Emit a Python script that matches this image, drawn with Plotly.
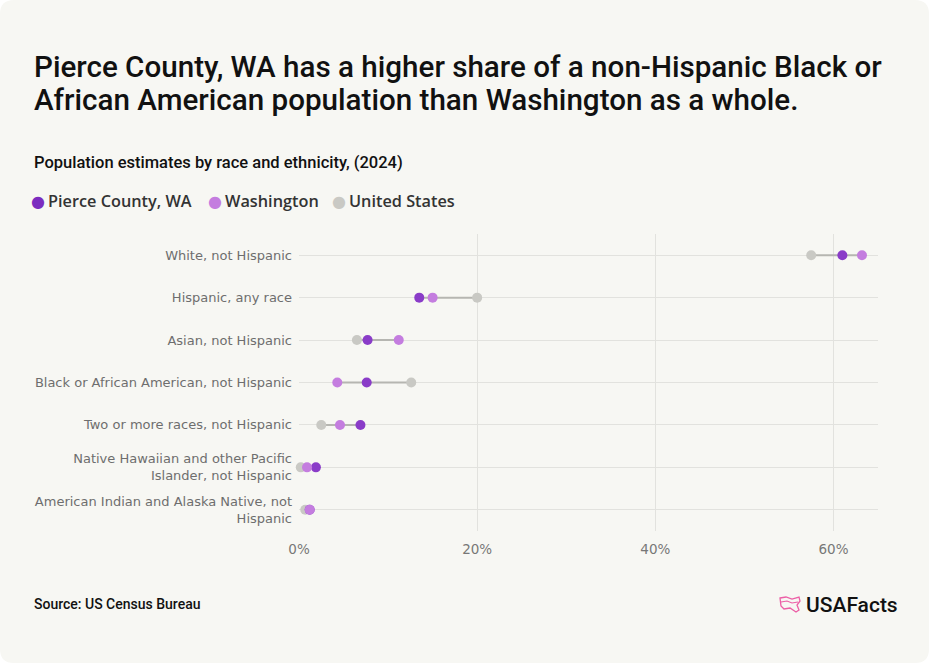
import plotly.graph_objects as go

categories = [
    "White, not Hispanic",
    "Hispanic, any race",
    "Asian, not Hispanic",
    "Black or African American, not Hispanic",
    "Two or more races, not Hispanic",
    "Native Hawaiian and other Pacific<br>Islander, not Hispanic",
    "American Indian and Alaska Native, not<br>Hispanic",
]
pierce = [61.0, 13.5, 7.7, 7.6, 6.9, 1.9, 1.2]
washington = [63.2, 15.0, 11.2, 4.3, 4.6, 0.9, 1.2]
united_states = [57.5, 20.0, 6.5, 12.6, 2.5, 0.2, 0.7]
x_ticks = [0, 20, 40, 60]
x_tick_labels = ["0%", "20%", "40%", "60%"]

C_PIERCE = "#8a3cc8"
C_WA = "#c47ddf"
C_US = "#c9c9c4"
C_LINE = "#b6b6b1"
BG = "#f7f7f3"

W_PX, H_PX = 929, 663
L, R, T, B = 299, 878, 234, 531
PW, PH = R - L, B - T


def px(x):
    return (x - L) / PW


def py(y):
    return (B - y) / PH


fig = go.Figure()

# connecting lines
lx, ly = [], []
for c, a, b, d in zip(categories, pierce, washington, united_states):
    lx += [min(a, b, d), max(a, b, d), None]
    ly += [c, c, None]
fig.add_trace(go.Scatter(x=lx, y=ly, mode="lines", line=dict(color=C_LINE, width=2),
                         hoverinfo="skip", showlegend=False, cliponaxis=False))

for name, vals, col in [("United States", united_states, C_US),
                        ("Pierce County, WA", pierce, C_PIERCE),
                        ("Washington", washington, C_WA)]:
    fig.add_trace(go.Scatter(x=vals, y=categories, mode="markers", name=name,
                             marker=dict(color=col, size=10, line=dict(width=0)),
                             showlegend=False, cliponaxis=False))

shapes = []
# rounded card background
r = 14
x0, x1, y0, y1 = 0, W_PX, 0, H_PX
path = (f"M {px(x0 + r)} {py(y0)} L {px(x1 - r)} {py(y0)} "
        f"Q {px(x1)} {py(y0)} {px(x1)} {py(y0 + r)} "
        f"L {px(x1)} {py(y1 - r)} Q {px(x1)} {py(y1)} {px(x1 - r)} {py(y1)} "
        f"L {px(x0 + r)} {py(y1)} Q {px(x0)} {py(y1)} {px(x0)} {py(y1 - r)} "
        f"L {px(x0)} {py(y0 + r)} Q {px(x0)} {py(y0)} {px(x0 + r)} {py(y0)} Z")
shapes.append(dict(type="path", path=path, xref="paper", yref="paper",
                   fillcolor=BG, line=dict(width=0), layer="below"))

# logo icon (simplified outline map)
lx0, ly0 = 780, 597
icon = (f"M {px(lx0)} {py(ly0 + 1)} L {px(lx0 + 6)} {py(ly0)} L {px(lx0 + 12)} {py(ly0 + 2)} "
        f"L {px(lx0 + 19)} {py(ly0)} L {px(lx0 + 20)} {py(ly0 + 4)} L {px(lx0 + 17)} {py(ly0 + 8)} "
        f"L {px(lx0 + 19)} {py(ly0 + 13)} L {px(lx0 + 16)} {py(ly0 + 15)} L {px(lx0 + 10)} {py(ly0 + 11)} "
        f"L {px(lx0 + 4)} {py(ly0 + 12)} L {px(lx0 + 1)} {py(ly0 + 9)} Z")
shapes.append(dict(type="path", path=icon, xref="paper", yref="paper",
                   fillcolor="rgba(0,0,0,0)", line=dict(color="#ec5fa6", width=1.3)))
icon2 = (f"M {px(lx0 + 1)} {py(ly0 + 5)} L {px(lx0 + 7)} {py(ly0 + 4)} L {px(lx0 + 12)} {py(ly0 + 6)} "
         f"L {px(lx0 + 18)} {py(ly0 + 5)}")
shapes.append(dict(type="path", path=icon2, xref="paper", yref="paper",
                   line=dict(color="#ec5fa6", width=1.1)))

annotations = [
    dict(text="Pierce County, WA has a higher share of a non-Hispanic Black or",
         x=px(32), y=py(67), xanchor="left", yanchor="middle",
         font=dict(family="Roboto", size=29.6, color="#111111", weight=500)),
    dict(text="African American population than Washington as a whole.",
         x=px(32), y=py(100), xanchor="left", yanchor="middle",
         font=dict(family="Roboto", size=29.6, color="#111111", weight=500)),
    dict(text="Population estimates by race and ethnicity, (2024)",
         x=px(32), y=py(162), xanchor="left", yanchor="middle",
         font=dict(family="Roboto", size=16.5, color="#111111", weight=500)),
    dict(text="Source: US Census Bureau",
         x=px(32), y=py(604), xanchor="left", yanchor="middle",
         font=dict(family="Roboto", size=14, color="#111111", weight=500)),
    dict(text="USAFacts",
         x=px(804), y=py(605), xanchor="left", yanchor="middle",
         font=dict(family="Roboto", size=21, color="#111111", weight=500)),
]
legend_items = [("Pierce County, WA", "#7b2cbf", 38), ("Washington", C_WA, 215),
                ("United States", C_US, 339)]
for name, col, x in legend_items:
    annotations.append(dict(text=f"<span style='color:{col}'>●</span>",
                            x=px(x), y=py(201), xanchor="center", yanchor="middle",
                            font=dict(family="DejaVu Sans", size=16)))
    annotations.append(dict(text=name, x=px(x + 8), y=py(201), xanchor="left",
                            yanchor="middle",
                            font=dict(family="Open Sans", size=16.3, color="#333333",
                                      weight=600)))
for a in annotations:
    a.update(xref="paper", yref="paper", showarrow=False)

fig.update_layout(
    width=W_PX, height=H_PX,
    margin=dict(l=L, r=W_PX - R, t=T, b=H_PX - B),
    paper_bgcolor="white", plot_bgcolor="rgba(0,0,0,0)",
    shapes=shapes, annotations=annotations, showlegend=False,
    xaxis=dict(range=[0, 65], tickvals=x_ticks, ticktext=x_tick_labels,
               showgrid=True, gridcolor="#e2e2de", gridwidth=1, zeroline=False,
               showline=False, ticks="", ticklabelstandoff=8,
               tickfont=dict(family="DejaVu Sans", size=13.5, color="#777777")),
    yaxis=dict(categoryorder="array", categoryarray=categories, range=[6.5, -0.5],
               showgrid=True, gridcolor="#e2e2de", gridwidth=1, zeroline=False,
               showline=False, ticks="", ticklabelstandoff=6,
               tickfont=dict(family="DejaVu Sans", size=13, color="#6e6e6e")),
)

fig.write_html("out.html")
